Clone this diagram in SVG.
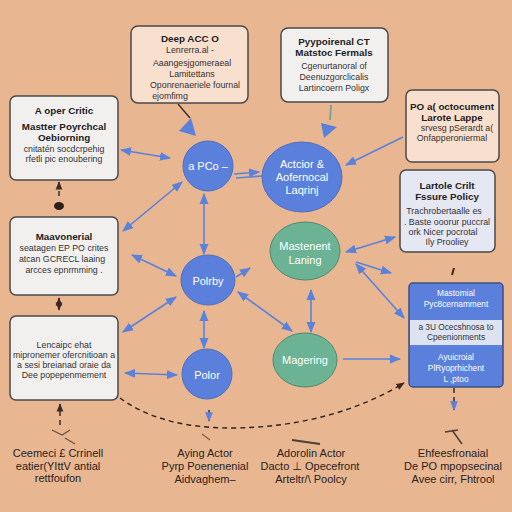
<svg xmlns="http://www.w3.org/2000/svg" width="512" height="512" viewBox="0 0 512 512">
<defs>
<marker id="ah" viewBox="0 0 10 10" refX="9" refY="5" markerWidth="7" markerHeight="7" orient="auto-start-reverse"><path d="M0,1 L10,5 L0,9 z" fill="#5a82dc"/></marker>
<marker id="dk" viewBox="0 0 10 10" refX="9" refY="5" markerWidth="6" markerHeight="6" orient="auto-start-reverse"><path d="M0,1 L10,5 L0,9 z" fill="#3a2a22"/></marker>
<style>
.box{stroke:#4a4a4a;stroke-width:1.5}
.grey{fill:#f1f0ef}.pink{fill:#f9dfcd}.lav{fill:#e5e7f3}
.t{font-family:"Liberation Sans","DejaVu Sans",sans-serif;fill:#333;text-anchor:middle;font-size:8.8px}
.b{font-weight:bold;font-size:9.8px;fill:#222}
.w{fill:#fff;font-size:11px}
.s{font-size:8.3px}
.bt{font-family:"Liberation Sans","DejaVu Sans",sans-serif;fill:#2a2220;text-anchor:middle;font-size:11px}
.blue{fill:#5b80dc;stroke:#4e6fc0;stroke-width:1}
.green{fill:#6bb394;stroke:#4f8a70;stroke-width:1}
.c{stroke:#5a82dc;stroke-width:1.6;fill:none}
.dash{stroke:#2d2420;stroke-width:1.4;fill:none;stroke-dasharray:5 4}
</style>
</defs>
<rect width="512" height="512" fill="#e8b690"/>

<g id="connectors">
<line class="c" x1="121" y1="150" x2="170" y2="158" marker-start="url(#ah)" marker-end="url(#ah)"/>
<line class="c" x1="234" y1="174" x2="259" y2="172" marker-end="url(#ah)"/>
<line class="c" x1="236" y1="178" x2="262" y2="176"/>
<line class="c" x1="403" y1="137" x2="346" y2="165" marker-end="url(#ah)"/>
<line class="c" x1="204" y1="194" x2="204" y2="254" marker-start="url(#ah)" marker-end="url(#ah)"/>
<line class="c" x1="182" y1="182" x2="123" y2="231" marker-start="url(#ah)" marker-end="url(#ah)"/>
<line class="c" x1="132" y1="255" x2="176" y2="276" marker-start="url(#ah)" marker-end="url(#ah)"/>
<line class="c" x1="176" y1="297" x2="123" y2="332" marker-start="url(#ah)" marker-end="url(#ah)"/>
<line class="c" x1="236" y1="277" x2="250" y2="268" marker-end="url(#ah)"/>
<line class="c" x1="238" y1="292" x2="292" y2="331" marker-start="url(#ah)" marker-end="url(#ah)"/>
<line class="c" x1="204" y1="311" x2="204" y2="348" marker-start="url(#ah)" marker-end="url(#ah)"/>
<line class="c" x1="125" y1="373" x2="177" y2="375" marker-start="url(#ah)" marker-end="url(#ah)"/>
<line class="c" x1="311" y1="290" x2="311" y2="332" marker-start="url(#ah)" marker-end="url(#ah)"/>
<line class="c" x1="343" y1="359" x2="400" y2="359" marker-end="url(#ah)"/>
<line class="c" x1="346" y1="252" x2="395" y2="237" marker-start="url(#ah)" marker-end="url(#ah)"/>
<line class="c" x1="356" y1="262" x2="391" y2="273" marker-end="url(#ah)"/>
<line class="c" x1="356" y1="264" x2="404" y2="318" marker-start="url(#ah)" marker-end="url(#ah)"/>
<polygon points="191,118 179,131 196,136" fill="#5a82dc"/>
<polygon points="321,123 337,127 324,138" fill="#5a82dc"/>
<path d="M178,104 L190,118" stroke="#3a2a22" stroke-width="1.3"/>
<path d="M331,105 L330,120" stroke="#7aa6a0" stroke-width="2"/>
<path d="M59,182 L59,197" class="dash" marker-start="url(#dk)"/>
<ellipse cx="59" cy="206" rx="5" ry="4" fill="#2a201c"/>
<line x1="59" y1="298" x2="59" y2="310" stroke="#2d2420" stroke-width="1.4" marker-start="url(#dk)" marker-end="url(#dk)"/>
<path d="M60,425 L60,404" class="dash" marker-end="url(#dk)"/>
<path d="M120,398 C150,420 190,428 230,428 C300,428 360,410 404,383" class="dash" marker-end="url(#dk)"/>
<path d="M209,410 L209,421" class="dash" marker-end="url(#ah)"/>
<path d="M454,388 L454,410" class="dash" marker-end="url(#ah)"/>
<path d="M452,275 L454,268" stroke="#3a2a22" stroke-width="2"/>
<path d="M52,430 L62,435 L70,430 M65,438 L75,444" stroke="#3a2a22" stroke-width="1.3" fill="none" opacity="0.7"/>
<path d="M202,434 L210,440" stroke="#3a2a22" stroke-width="1.3" opacity="0.6"/>
<path d="M292,440 L320,444" stroke="#2a201c" stroke-width="1.8" opacity="0.8"/>
<path d="M445,432 L458,430 M452,430 L462,444" stroke="#2a201c" stroke-width="1.5" opacity="0.8"/>
</g>

<g id="box-deep">
<rect class="box pink" x="131" y="26" width="117" height="77" rx="7"/>
<text class="t b" x="190" y="42">Deep ACC O</text>
<text class="t" x="190" y="53">Lenrerra.al -</text>
<text class="t" x="192" y="66">Aaangesjgomeraeal</text>
<text class="t" x="192" y="77">Lamitettans</text>
<text class="t" x="195" y="88">Oponrenaeriele fournal</text>
<text class="t" x="170" y="99">ejomfimg</text>
</g>

<g id="box-pyp">
<rect class="box grey" x="281" y="28" width="107" height="74" rx="7"/>
<text class="t b" x="334" y="45">Pyypoirenal CT</text>
<text class="t b" x="334" y="56">Matstoc Fermals</text>
<text class="t" x="334" y="69">Cgenurtanoral of</text>
<text class="t" x="334" y="80">Deenuzgorclicalis</text>
<text class="t" x="334" y="91">Lartincoern Poligx</text>
</g>

<g id="box-critic">
<rect class="box grey" x="10" y="96" width="108" height="84" rx="6"/>
<text class="t b" x="64" y="114">A oper Critic</text>
<text class="t b" x="64" y="130">Mastter Poyrchcal</text>
<text class="t b" x="64" y="141">Oebiorning</text>
<text class="t" x="64" y="152">cnitatén socdcrpehig</text>
<text class="t" x="64" y="162">rfetli pic enoubering</text>
</g>

<g id="box-po">
<rect class="box pink" x="406" y="90" width="93" height="72" rx="6"/>
<text class="t b" x="452" y="110">PO a( octocument</text>
<text class="t b" x="452" y="121">Larote Lappe</text>
<text class="t" x="457" y="131">srvesg pSerardt a(</text>
<text class="t" x="452" y="141">Onfapperoniermal</text>
</g>

<g id="box-lartole">
<rect class="box lav" x="400" y="170" width="95" height="82" rx="6"/>
<text class="t b" x="447" y="189">Lartole Crilt</text>
<text class="t b" x="447" y="200">Fssure Policy</text>
<text class="t" x="444" y="214">Trachrobertaalle es</text>
<text class="t" x="447" y="225">. Baste ooorur puccral</text>
<text class="t" x="443" y="235">ork Nicer pocrotal</text>
<text class="t" x="447" y="245">Ily Prooliey</text>
</g>

<g id="box-maav">
<rect class="box grey" x="10" y="217" width="108" height="78" rx="6"/>
<text class="t b" x="64" y="240">Maavonerial</text>
<text class="t" x="64" y="251">seatagen EP PO crites</text>
<text class="t" x="62" y="262">atcan GCRECL laaing</text>
<text class="t" x="64" y="273">arcces epnrmming .</text>
</g>

<g id="box-lenc">
<rect class="box grey" x="10" y="316" width="108" height="84" rx="6"/>
<text class="t" x="64" y="348">Lencaipc ehat</text>
<text class="t" x="64" y="358">mipronemer ofercnitioan a</text>
<text class="t" x="64" y="368">a sesi breianad oraie da</text>
<text class="t" x="64" y="378">Dee popepenmement</text>
</g>

<g id="box-blue">
<rect x="409" y="283" width="94" height="104" rx="4" fill="#5b80dc" stroke="#3d4f80" stroke-width="1.5"/>
<rect x="410" y="320" width="92" height="25" fill="#dde3f1"/>
<text class="t w s" x="456" y="296">Mastomial</text>
<text class="t w s" x="456" y="307">Pyc8cernamment</text>
<text class="t s" x="456" y="330">a 3U Ocecshnosa to</text>
<text class="t s" x="456" y="340">Cpeenionments</text>
<text class="t w s" x="456" y="360">Ayuicroial</text>
<text class="t w s" x="456" y="371">PlRyoprhichent</text>
<text class="t w s" x="456" y="382">L ,ptoo</text>
</g>

<g id="n-pco"><circle class="blue" cx="208" cy="166" r="25"/><text class="t w" x="208" y="170">a PCo –</text></g>
<g id="n-actor"><ellipse class="blue" cx="302" cy="177" rx="40" ry="35"/>
<text class="t w" x="302" y="168">Actcior &amp;</text><text class="t w" x="302" y="181">Aofernocal</text><text class="t w" x="302" y="194">Laqrinj</text></g>
<g id="n-mast"><ellipse class="green" cx="305" cy="251" rx="35" ry="29"/>
<text class="t w" x="305" y="250">Mastenent</text><text class="t w" x="305" y="264">Laning</text></g>
<g id="n-policy"><ellipse class="blue" cx="208" cy="280" rx="27" ry="25"/><text class="t w" x="208" y="285">Polrby</text></g>
<g id="n-polor"><circle class="blue" cx="207" cy="374" r="25"/><text class="t w" x="207" y="379">Polor</text></g>
<g id="n-mag"><ellipse class="green" cx="305" cy="360" rx="32" ry="27"/><text class="t w" x="305" y="364">Magering</text></g>

<g id="captions">
<text class="bt" x="58" y="457">Ceemeci £ Crrinell</text>
<text class="bt" x="58" y="470">eatier(YIttV antial</text>
<text class="bt" x="58" y="482">rettfoufon</text>
<text class="bt" x="205" y="457">Aying Actor</text>
<text class="bt" x="205" y="470">Pyrp Poenenenial</text>
<text class="bt" x="205" y="483">Aidvaghem–</text>
<text class="bt" x="311" y="457">Adorolin Actor</text>
<text class="bt" x="310" y="470">Dacto ⊥ Opecefront</text>
<text class="bt" x="311" y="483">Arteltr/\ Poolcy</text>
<text class="bt" x="453" y="457">Ehfeesfronaial</text>
<text class="bt" x="453" y="470">De PO mpopsecinal</text>
<text class="bt" x="453" y="483">Avee cirr, Fhtrool</text>
</g>
</svg>
